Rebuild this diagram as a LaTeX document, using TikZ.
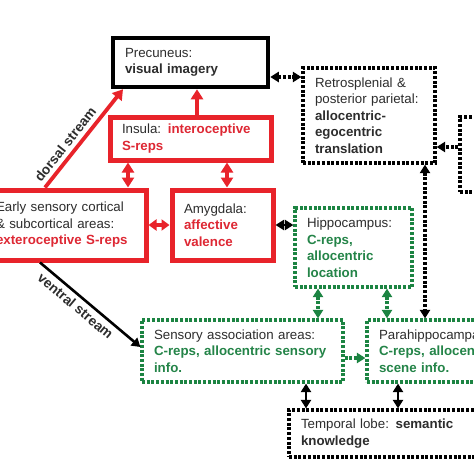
\documentclass[tikz,border=0pt]{standalone}
\usepackage{fontspec}
\setmainfont{Liberation Sans}
\usetikzlibrary{arrows.meta}
\definecolor{boxred}{RGB}{232,35,42}
\definecolor{txtred}{RGB}{222,40,52}
\definecolor{boxgreen}{RGB}{28,132,66}
\definecolor{txtgreen}{RGB}{36,132,72}
\definecolor{txtdark}{RGB}{45,45,45}
\newcommand\rb[1]{\textcolor{txtred}{\bfseries #1}}
\newcommand\gb[1]{\textcolor{txtgreen}{\bfseries #1}}
\newcommand\kb[1]{{\bfseries #1}}
\begin{document}
\begin{tikzpicture}[x=1pt,y=-1pt,
  base/.style={rectangle, inner xsep=12pt, inner ysep=0pt, align=left,
    font=\fontsize{13.3}{16.5}\selectfont, text=txtdark},
  redbox/.style={base, draw=boxred, line width=5pt},
  blackbox/.style={base, draw=black, line width=4.5pt},
  dotbox/.style={base, draw=black, line width=3.2pt, dash pattern=on 3pt off 1.7pt},
  greenbox/.style={dotbox, draw=boxgreen},
  tipR/.tip={Triangle[length=10pt,width=12pt]},
  tipRs/.tip={Triangle[length=8pt,width=11pt]},
  tipK/.tip={Triangle[length=8.5pt,width=10pt]},
  redarr/.style={draw=boxred, line width=3.8pt},
  dotarr/.style={draw=black, line width=3.2pt, dash pattern=on 3pt off 1.7pt},
  greenarr/.style={dotarr, draw=boxgreen},
  blackarr/.style={draw=black, line width=2.6pt},
  streamlbl/.style={font=\fontsize{13.7}{15}\bfseries, text=txtdark, inner sep=4pt}
]
\useasboundingbox (0,0) rectangle (474,474);
\fill[white] (0,0) rectangle (474,474);
\clip (0,0) rectangle (474,474);

\node[blackbox, minimum width=155pt, minimum height=49pt, text width=131pt] (prec) at (190.5,62.5)
  {Precuneus:\\\kb{visual imagery}};
\node[redbox, minimum width=161pt, minimum height=43pt, text width=137pt] (ins) at (190.5,138.5)
  {Insula: \rb{interoceptive}\\\rb{S-reps}};
\node[redbox, minimum width=162pt, minimum height=70pt, text width=138pt] (early) at (65,225)
  {Early sensory cortical\\\& subcortical areas:\\\rb{exteroceptive S-reps}};
\node[redbox, minimum width=101pt, minimum height=70pt, text width=77pt] (amyg) at (222.5,225)
  {Amygdala:\\\rb{affective}\\\rb{valence}};
\node[dotbox, minimum width=132pt, minimum height=95pt, text width=108pt] (retro) at (369,115.5)
  {Retrosplenial \&\\posterior parietal:\\\kb{allocentric-}\\\kb{egocentric}\\\kb{translation}};
\node[dotbox, minimum width=100pt, minimum height=75pt] (rb) at (510,154.5) {};
\node[greenbox, minimum width=117pt, minimum height=79pt, text width=93pt] (hippo) at (353.5,247.5)
  {Hippocampus:\\\gb{C-reps,}\\\gb{allocentric}\\\gb{location}};
\node[greenbox, minimum width=201pt, minimum height=62pt, text width=177pt] (sens) at (242.5,351)
  {Sensory association areas:\\\gb{C-reps, allocentric sensory}\\\gb{info.}};
\node[greenbox, minimum width=173pt, minimum height=62pt, text width=149pt] (para) at (453.5,351)
  {Parahippocampal:\\\gb{C-reps, allocentric}\\\gb{scene info.}};
\node[dotbox, minimum width=231pt, minimum height=47pt, text width=207pt] (temp) at (404.5,433.5)
  {Temporal lobe: \kb{semantic}\\\kb{knowledge}};

% red connectors
\draw[redarr, -tipR] ([xshift=6.5pt]ins.north) -- ([xshift=6.5pt]ins.north |- prec.south);
\draw[redarr, tipR-tipR] ([xshift=-62.5pt]ins.south) -- ([xshift=-62.5pt]ins.south |- early.north);
\draw[redarr, tipR-tipR] ([xshift=36.5pt]ins.south) -- ([xshift=36.5pt]ins.south |- amyg.north);
\draw[redarr, line width=3.2pt, tipRs-tipRs] (early.east) -- (amyg.west);
\draw[redarr, -tipR] ([xshift=-20pt]early.north) -- ([xshift=-67.5pt]prec.south)
  node[pos=0.37, sloped, above, streamlbl] {dorsal stream};
\draw[blackarr, -tipK] ([xshift=-25pt]early.south) -- ([yshift=4pt]sens.west)
  node[pos=0.42, sloped, below, streamlbl] {ventral stream};

% black connectors
\draw[dotarr, tipK-tipK] ([yshift=-14.5pt]prec.east) -- ([yshift=-14.5pt]prec.east -| retro.west);
\draw[dotarr, -tipK] ([yshift=7.5pt]rb.west) -- ([yshift=7.5pt]rb.west -| retro.east);
\draw[dotarr, tipK-tipK] ([xshift=56pt]retro.south) -- ([xshift=56pt]retro.south |- para.north);
\draw[blackarr, tipK-tipK] (amyg.east) -- (amyg.east -| hippo.west);
\draw[blackarr, tipK-tipK] ([xshift=63.5pt]sens.south) -- ([xshift=63.5pt]sens.south |- temp.north);
\draw[blackarr, tipK-tipK] ([xshift=-55.5pt]para.south) -- ([xshift=-55.5pt]para.south |- temp.north);

% green connectors
\draw[greenarr, tipK-tipK] ([xshift=-35.5pt]hippo.south) -- ([xshift=-35.5pt]hippo.south |- sens.north);
\draw[greenarr, tipK-tipK] ([xshift=33.5pt]hippo.south) -- ([xshift=33.5pt]hippo.south |- para.north);
\draw[greenarr, -tipK] ([yshift=-7pt]sens.east) -- ([yshift=-7pt]sens.east -| para.west);
\end{tikzpicture}
\end{document}
